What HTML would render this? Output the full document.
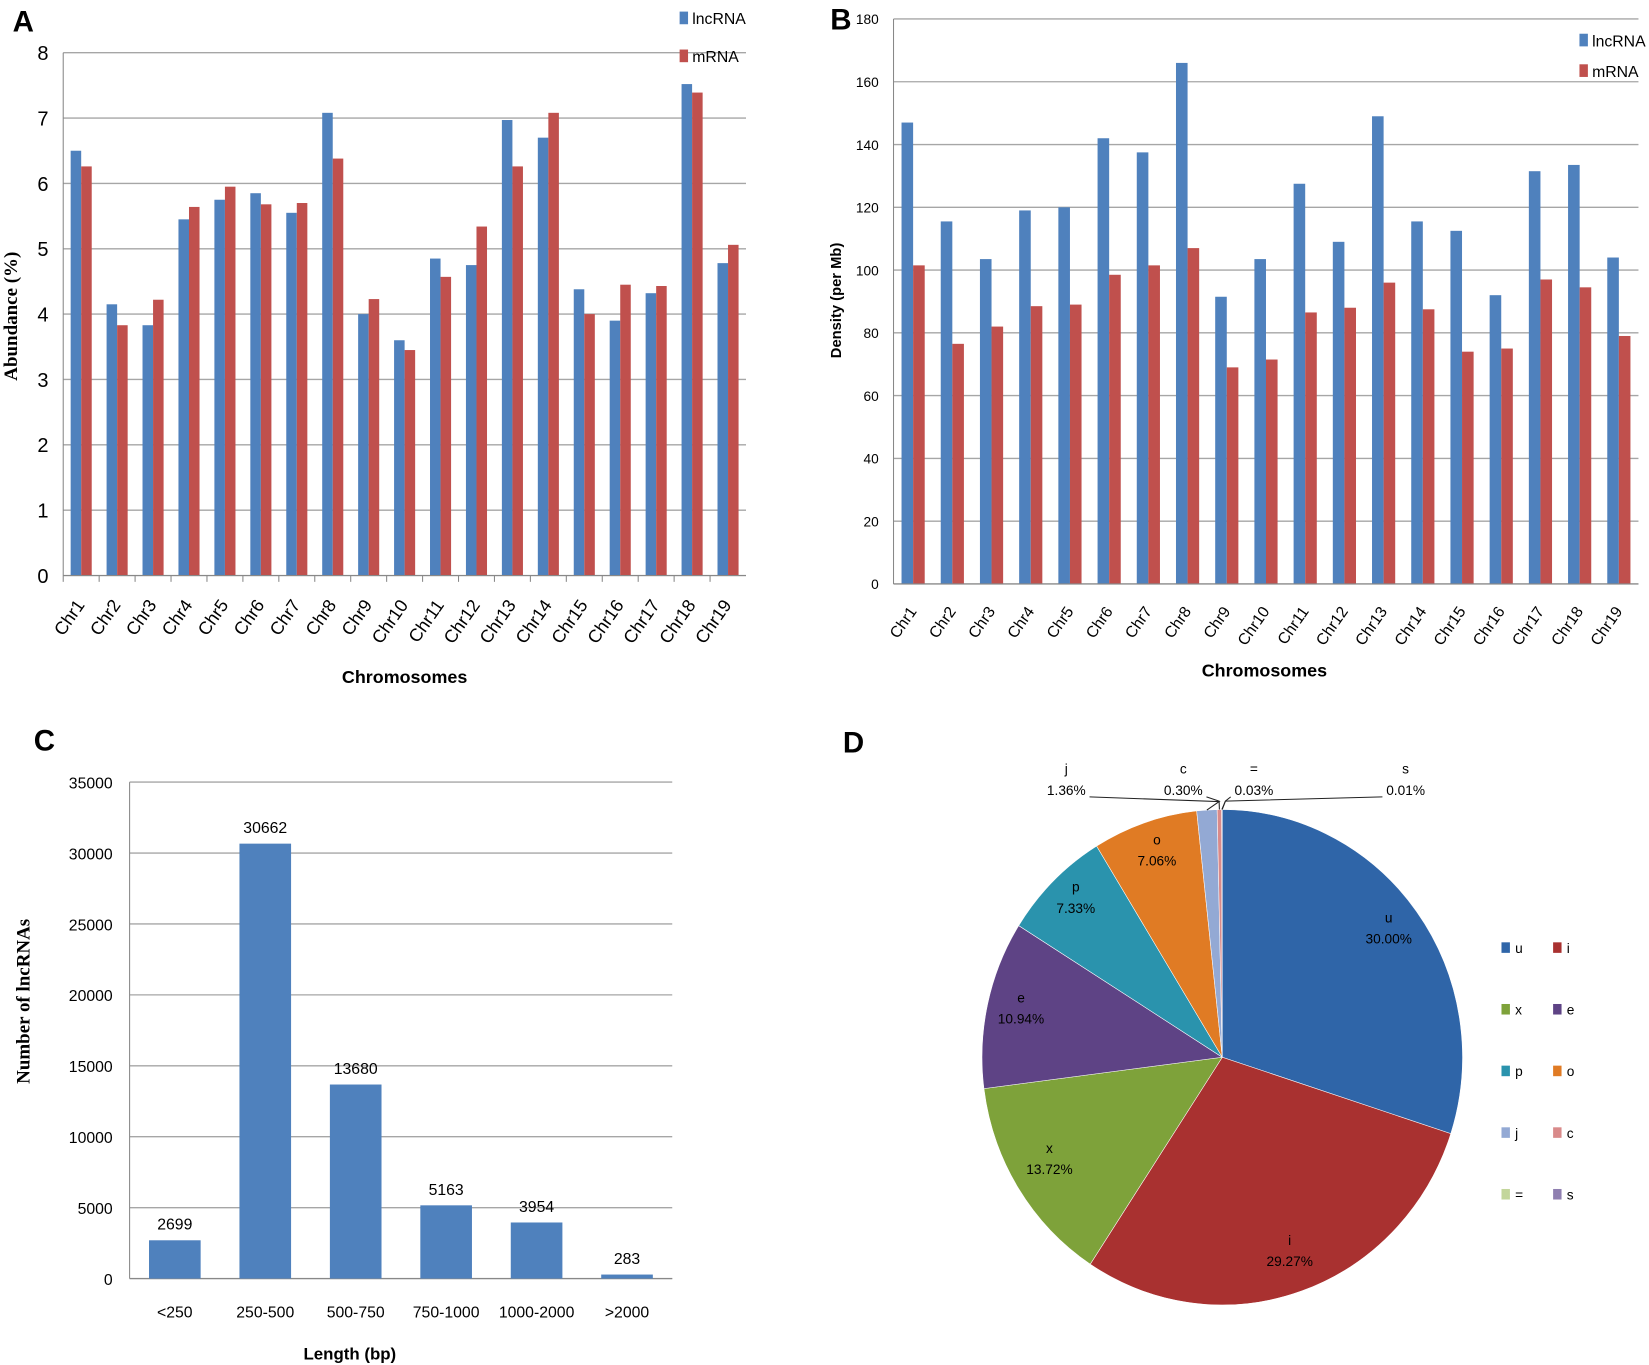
<!DOCTYPE html>
<html><head><meta charset="utf-8"><style>
html,body{margin:0;padding:0;background:#fff}
svg{display:block}
text{font-family:"Liberation Sans",sans-serif;fill:#000}
</style></head><body>
<svg id="fig" width="1649" height="1365" viewBox="0 0 1565 1295" preserveAspectRatio="none" xmlns="http://www.w3.org/2000/svg"></svg>
<script>
const chromosomes=["Chr1","Chr2","Chr3","Chr4","Chr5","Chr6","Chr7","Chr8","Chr9","Chr10","Chr11","Chr12","Chr13","Chr14","Chr15","Chr16","Chr17","Chr18","Chr19"];
const abundanceLnc=[6.5,4.15,3.83,5.45,5.75,5.85,5.55,7.08,4.0,3.6,4.85,4.75,6.97,6.7,4.38,3.9,4.32,7.52,4.78];
const abundanceMrna=[6.26,3.83,4.22,5.64,5.95,5.68,5.7,6.38,4.23,3.45,4.57,5.34,6.26,7.08,4.0,4.45,4.43,7.39,5.06];
const abundanceTicks=[0,1,2,3,4,5,6,7,8];
const densityLnc=[147,115.5,103.5,119,120,142,137.5,166,91.5,103.5,127.5,109,149,115.5,112.5,92,131.5,133.5,104];
const densityMrna=[101.5,76.5,82,88.5,89,98.5,101.5,107,69,71.5,86.5,88,96,87.5,74,75,97,94.5,79];
const densityTicks=[0,20,40,60,80,100,120,140,160,180];
const lengthCats=["<250","250-500","500-750","750-1000","1000-2000",">2000"];
const lengthCounts=[2699,30662,13680,5163,3954,283];
const countTicks=[0,5000,10000,15000,20000,25000,30000,35000];
const pieCats=["u","i","x","e","p","o","j","c","=","s"];
const piePct=[30.00,29.27,13.72,10.94,7.33,7.06,1.36,0.30,0.03,0.01];

const NS="http://www.w3.org/2000/svg";
const svg=document.getElementById('fig');
function mk(tag,attrs,parent,txt){const e=document.createElementNS(NS,tag);for(const k in attrs)e.setAttribute(k,attrs[k]);if(txt!==undefined)e.textContent=txt;(parent||svg).appendChild(e);return e;}
const BLUE="#4f81bd",RED="#c0504d";

// panel letters
[["A",12,30],["B",788,28],["C",32,712],["D",800,714]].forEach(p=>{
  const t=mk('text',{x:p[1],y:p[2],'font-size':28,'font-weight':'bold'},svg,p[0]);
  
  
});

function barPanel(cfg){
  const g=mk('g',{});
  
  
  const y=v=>cfg.y0-(v-cfg.min)/(cfg.max-cfg.min)*(cfg.y0-cfg.y1);
  cfg.ticks.forEach(t=>{
    const l=mk('line',{x1:cfg.x0,x2:cfg.x1,y1:y(t),y2:y(t),stroke:"#a6a6a6",'stroke-width':1.3},g);
    
    
    const tx=mk('text',{x:cfg.x0-cfg.tickPad,y:y(t)+cfg.tickDy,'font-size':cfg.tickFs,'text-anchor':'end'},g,t);
    
    
  });
  const ax=mk('line',{x1:cfg.x0,x2:cfg.x0,y1:cfg.y1,y2:cfg.y0,stroke:"#888"},g);
  
  
  const n=cfg.cats.length,w=(cfg.x1-cfg.x0)/n;
  cfg.cats.forEach((c,i)=>{
    const cx=cfg.x0+w*(i+0.5);
    cfg.series.forEach((s,j)=>{
      const bx=cx-cfg.bw*cfg.series.length/2+j*cfg.bw;
      const r=mk('rect',{x:bx,y:y(s.vals[i]),width:cfg.bw,height:y(cfg.min)-y(s.vals[i]),fill:s.color},g);
      
      
    });
    if(cfg.tickMarks){const tm=mk('line',{x1:cfg.x0+w*i,x2:cfg.x0+w*i,y1:cfg.y0,y2:cfg.y0+6,stroke:"#888"},g);
      
      }
    const lx=cx+4,ly=cfg.y0+cfg.labDy;
    const t=mk('text',{x:lx,y:ly,'font-size':cfg.labFs,'text-anchor':'end',transform:`rotate(${cfg.rot} ${lx} ${ly})`},g,c);
    
    
  });
  const xa=mk('line',{x1:cfg.x0,x2:cfg.x1,y1:cfg.y0,y2:cfg.y0,stroke:"#888"},g);
  
  
  return {g,y,w};
}

// Panel A
const A=barPanel({name:'chart-a-abundance',x0:60,x1:708,y0:546,y1:50,min:0,max:8,ticks:abundanceTicks,tickPad:14,tickDy:7,tickFs:19,cats:chromosomes,bw:10,labDy:28,labFs:17,rot:-55,tickMarks:true,
  series:[{key:'lncrna',vals:abundanceLnc,color:BLUE},{key:'mrna',vals:abundanceMrna,color:RED}]});
let t;
t=mk('text',{x:16,y:300,'font-size':18,'font-weight':'bold','text-anchor':'middle',transform:'rotate(-90 16 300)',style:'font-family:"Liberation Serif",serif'},svg,'Abundance (%)');


t=mk('text',{x:384,y:648,'font-size':17,'font-weight':'bold','text-anchor':'middle'},svg,'Chromosomes');



// Panel B
const B=barPanel({name:'chart-b-density',x0:848,x1:1555,y0:554,y1:18,min:0,max:180,ticks:densityTicks,tickPad:14,tickDy:5,tickFs:13,cats:chromosomes,bw:11,labDy:26,labFs:15,rot:-55,tickMarks:false,
  series:[{key:'lncrna',vals:densityLnc,color:BLUE},{key:'mrna',vals:densityMrna,color:RED}]});
t=mk('text',{x:798,y:285,'font-size':14,'font-weight':'bold','text-anchor':'middle',transform:'rotate(-90 798 285)'},svg,'Density (per Mb)');


t=mk('text',{x:1200,y:642,'font-size':17,'font-weight':'bold','text-anchor':'middle'},svg,'Chromosomes');



// legends A, B
[[645,17,BLUE,'lncRNA','legend-a-lncrna'],[645,53,RED,'mRNA','legend-a-mrna'],[1499,38,BLUE,'lncRNA','legend-b-lncrna'],[1499,67,RED,'mRNA','legend-b-mrna']].forEach(l=>{
  const g=mk('g',{});
  
  
  mk('rect',{x:l[0],y:l[1]-6,width:8,height:12,fill:l[2]},g);
  mk('text',{x:l[0]+12,y:l[1]+6,'font-size':15},g,l[3]);
});

// Panel C
const C=barPanel({name:'chart-c-length',x0:123,x1:638,y0:1213,y1:742,min:0,max:35000,ticks:countTicks,tickPad:16,tickDy:6,tickFs:15,cats:[],bw:49,labDy:0,labFs:15,rot:0,tickMarks:false,series:[]});
{
  const w=(638-123)/lengthCats.length;
  lengthCats.forEach((c,i)=>{
    const cx=123+w*(i+0.5);
    const r=mk('rect',{x:cx-24.5,y:C.y(lengthCounts[i]),width:49,height:1213-C.y(lengthCounts[i]),fill:BLUE});
    
    
    const v=mk('text',{x:cx,y:C.y(lengthCounts[i])-10,'font-size':15,'text-anchor':'middle'},svg,lengthCounts[i]);
    
    
    const l=mk('text',{x:cx,y:1250,'font-size':15,'text-anchor':'middle'},svg,c);
    
    
  });
}
t=mk('text',{x:28,y:950,'font-size':18,'font-weight':'bold','text-anchor':'middle',transform:'rotate(-90 28 950)',style:'font-family:"Liberation Serif",serif'},svg,'Number of lncRNAs');


t=mk('text',{x:332,y:1290,'font-size':16,'font-weight':'bold','text-anchor':'middle'},svg,'Length (bp)');



// Panel D pie
const pieColors=["#2f65a8","#a93130","#7ea23a","#5e4385","#2a93ad","#e07b24","#93a9d4","#d98a8a","#c3d69b","#8f7fb0"];
const PCX=1160,PCY=1003,RX=228,RY=235;
const labelPos={u:[1318,875],i:[1224,1181],x:[996,1094],e:[969,951],p:[1021,846],o:[1098,801],j:[1012,734],c:[1123,734],"=":[1190,734],s:[1334,734]};
{
  const total=piePct.reduce((a,b)=>a+b,0);
  let a0=0;
  pieCats.forEach((c,i)=>{
    const a1=a0+piePct[i]/total*2*Math.PI;
    const p0=[PCX+RX*Math.sin(a0),PCY-RY*Math.cos(a0)],p1=[PCX+RX*Math.sin(a1),PCY-RY*Math.cos(a1)];
    const large=(a1-a0)>Math.PI?1:0;
    const s=mk('path',{d:`M${PCX},${PCY}L${p0[0]},${p0[1]}A${RX},${RY} 0 ${large} 1 ${p1[0]},${p1[1]}Z`,fill:pieColors[i],stroke:'#fff','stroke-width':0.5});
    
    
    const lp=labelPos[c];
    const mid=(a0+a1)/2;
    if(i>=6){
      const ex=PCX+RX*Math.sin(mid),ey=PCY-RY*Math.cos(mid);
      const tx=lp[0]+(lp[0]<PCX?22:-22);
      const ln=mk('polyline',{points:`${ex},${ey} ${PCX+(lp[0]<PCX?-3:3)},${ey-8} ${tx},${lp[1]+22}`,fill:'none',stroke:'#222','stroke-width':1});
      
      
    }
    const l1=mk('text',{x:lp[0],y:lp[1],'font-size':13,'text-anchor':'middle'},svg,c);
    
    
    const l2=mk('text',{x:lp[0],y:lp[1]+20,'font-size':13,'text-anchor':'middle'},svg,piePct[i].toFixed(2)+'%');
    
    
    a0=a1;
  });
  pieCats.forEach((c,i)=>{
    const col=i%2,row=Math.floor(i/2);
    const x=1426+col*49,y=899+row*58.5;
    const g=mk('g',{});
    
    
    mk('rect',{x:x-1,y:y-5,width:8,height:10,fill:pieColors[i]},g);
    mk('text',{x:x+12,y:y+5,'font-size':13},g,c);
  });
}
</script>
</body></html>
